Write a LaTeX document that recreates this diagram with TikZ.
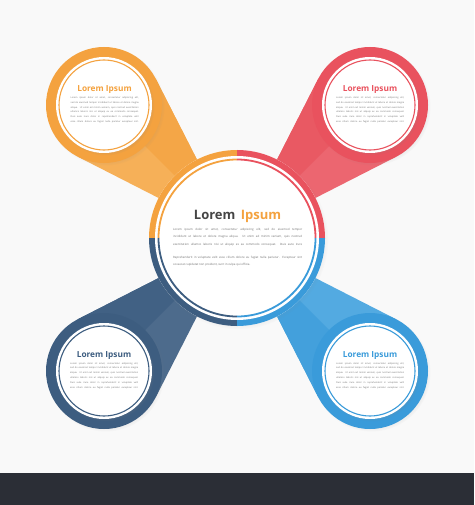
\documentclass[tikz,border=0pt]{standalone}
\usepackage{fontspec}
\setmainfont{Open Sans}
\usetikzlibrary{shadows,calc}
\definecolor{cOr}{HTML}{F4A23F}
\definecolor{cOrL}{HTML}{F6B058}
\definecolor{cOrD}{HTML}{F4A647}
\definecolor{cRe}{HTML}{E9525E}
\definecolor{cReL}{HTML}{EC6670}
\definecolor{cReD}{HTML}{E95963}
\definecolor{cDb}{HTML}{3D5D80}
\definecolor{cDbL}{HTML}{4D6B8C}
\definecolor{cDbD}{HTML}{416184}
\definecolor{cLb}{HTML}{3A9BDA}
\definecolor{cLbL}{HTML}{53AAE1}
\definecolor{cLbD}{HTML}{43A0DC}
\definecolor{bgc}{HTML}{F9F9F9}
\definecolor{barc}{HTML}{2B2E36}
\definecolor{txtc}{HTML}{707070}
\definecolor{ttlc}{HTML}{454545}
\newcommand{\wedgearm}[4]{%
  \fill[#2] (M) -- ($(M)!0.9513!17.96:(#1)$) -- (#1) -- ($(M)!0.9513!-17.96:(#1)$) -- cycle;
  \fill[#3] (M) -- ($(M)!0.9513!#4:(#1)$) -- (#1) -- cycle;
}
\newcommand{\satdisk}[3]{% name, centre coordinate, colour
  \node[satouter, fill=#3] (#1o) at (#2) {};
  \node[satinner] (#1i) at (#2) {};
  \node[satring, draw=#3] (#1r) at (#2) {};
}
\newcommand{\satblock}[4]{% name, cx, title baseline, colour
  \node[sattitle, text=#4] (#1t) at (#2,#3) {Lorem Ipsum};
  \node[satline] (#1a) at (#2-34,#3+6.5) {\makebox[68pt][s]{Lorem ipsum dolor sit amet, consectetur adipiscing elit,}};
  \node[satline] (#1b) at (#2-34,#3+11.3) {\makebox[68pt][s]{sed do eiusmod tempor incididunt ut labore et dolore magna}};
  \node[satline] (#1c) at (#2-34,#3+16.1) {\makebox[68pt][s]{aliqua. Ut enim ad minim veniam, quis nostrud exercitation}};
  \node[satline] (#1d) at (#2-34,#3+20.9) {\makebox[68pt][s]{ullamco laboris nisi ut aliquip ex ea commodo consequat.}};
  \node[satline] (#1e) at (#2-34,#3+25.7) {\makebox[68pt][s]{Duis aute irure dolor in reprehenderit in voluptate velit}};
  \node[satline] (#1f) at (#2-34,#3+30.5) {\makebox[68pt][s]{esse cillum dolore eu fugiat nulla pariatur excepteur sint.}};
}
\begin{document}
\begin{tikzpicture}[x=1pt,y=-1pt,
  satouter/.style={circle, minimum size=116pt, inner sep=0pt,
    circular drop shadow={shadow xshift=1.5pt, shadow yshift=-1.5pt, opacity=.22, shadow scale=1.02}},
  satinner/.style={circle, fill=white, minimum size=96pt, inner sep=0pt,
    circular drop shadow={shadow xshift=1.5pt, shadow yshift=-1.5pt, opacity=.3, shadow scale=1.02}},
  satring/.style={circle, line width=1.1pt, minimum size=90pt, inner sep=0pt},
  sattitle/.style={anchor=base, font=\bfseries\fontsize{8.3}{10}\selectfont},
  satline/.style={anchor=base west, inner sep=0pt, text=txtc, font=\fontsize{2.3}{3}\selectfont},
  cline/.style={anchor=base west, inner sep=0pt, text=txtc, font=\fontsize{2.9}{4}\selectfont},
  mainbase/.style={circle, fill=white, minimum size=176pt, inner sep=0pt,
    circular drop shadow={shadow xshift=1.5pt, shadow yshift=-1.5pt, opacity=.22, shadow scale=1.02}},
  whitedisk/.style={circle, fill=white, minimum size=164pt, inner sep=0pt}]
\useasboundingbox (0,0) rectangle (474,505);
\fill[bgc] (0,0) rectangle (474,473);
\fill[barc] (0,473) rectangle (474,505);
\coordinate (M) at (237,238);
\coordinate (S1) at (104,105);
\coordinate (S2) at (370,105);
\coordinate (S3) at (104,371);
\coordinate (S4) at (370,371);
% arms
\wedgearm{S1}{cOrL}{cOrD}{-17.96}
\wedgearm{S2}{cReL}{cReD}{17.96}
\wedgearm{S3}{cDbL}{cDbD}{-17.96}
\wedgearm{S4}{cLbL}{cLbD}{-17.96}
% main circle
\node[mainbase] (mc) at (M) {};
\fill[cOr] (M) -- ++(90:88pt) arc[start angle=90, end angle=180, radius=88pt] -- cycle;
\fill[cRe] (M) -- ++(0:88pt) arc[start angle=0, end angle=90, radius=88pt] -- cycle;
\fill[cDb] (M) -- ++(180:88pt) arc[start angle=180, end angle=270, radius=88pt] -- cycle;
\fill[cLb] (M) -- ++(270:88pt) arc[start angle=270, end angle=360, radius=88pt] -- cycle;
\node[whitedisk] (mw) at (M) {};
\draw[cOr, line width=1.8pt] ([shift={(90:78.5pt)}]M) arc[start angle=90, end angle=180, radius=78.5pt];
\draw[cRe, line width=1.8pt] ([shift={(0:78.5pt)}]M) arc[start angle=0, end angle=90, radius=78.5pt];
\draw[cDb, line width=1.8pt] ([shift={(180:78.5pt)}]M) arc[start angle=180, end angle=270, radius=78.5pt];
\draw[cLb, line width=1.8pt] ([shift={(270:78.5pt)}]M) arc[start angle=270, end angle=360, radius=78.5pt];
% satellites
\satdisk{or}{S1}{cOr}
\satdisk{re}{S2}{cRe}
\satdisk{db}{S3}{cDb}
\satdisk{lb}{S4}{cLb}
\satblock{ort}{104.5}{92}{cOr}
\satblock{ret}{370}{92}{cRe}
\satblock{dbt}{104}{357.5}{cDb}
\satblock{lbt}{370}{357.5}{cLb}
% centre text
\node[anchor=base, font=\bfseries\fontsize{13}{15}\selectfont] (mt) at (237.5,219) {\textcolor{ttlc}{Lorem}\hspace{0.15em} \textcolor{cOr}{Ipsum}};
\node[cline] (c1) at (173,230) {\makebox[129pt][s]{Lorem ipsum dolor sit amet, consectetur adipiscing elit, sed do eiusmod tempor}};
\node[cline] (c2) at (173,237.5) {\makebox[129pt][s]{incididunt ut labore et dolore magna aliqua. Ut enim ad minim veniam, quis nostrud}};
\node[cline] (c3) at (173,245) {\makebox[129pt][s]{exercitation ullamco laboris nisi ut aliquip ex ea commodo consequat. Duis aute irure}};
\node[cline] (c4) at (173,258) {\makebox[129pt][s]{Reprehenderit in voluptate velit esse cillum dolore eu fugiat nulla pariatur. Excepteur sint}};
\node[cline] (c5) at (173,265.5) {occaecat cupidatat non proident, sunt in culpa qui officia.};
\end{tikzpicture}
\end{document}
